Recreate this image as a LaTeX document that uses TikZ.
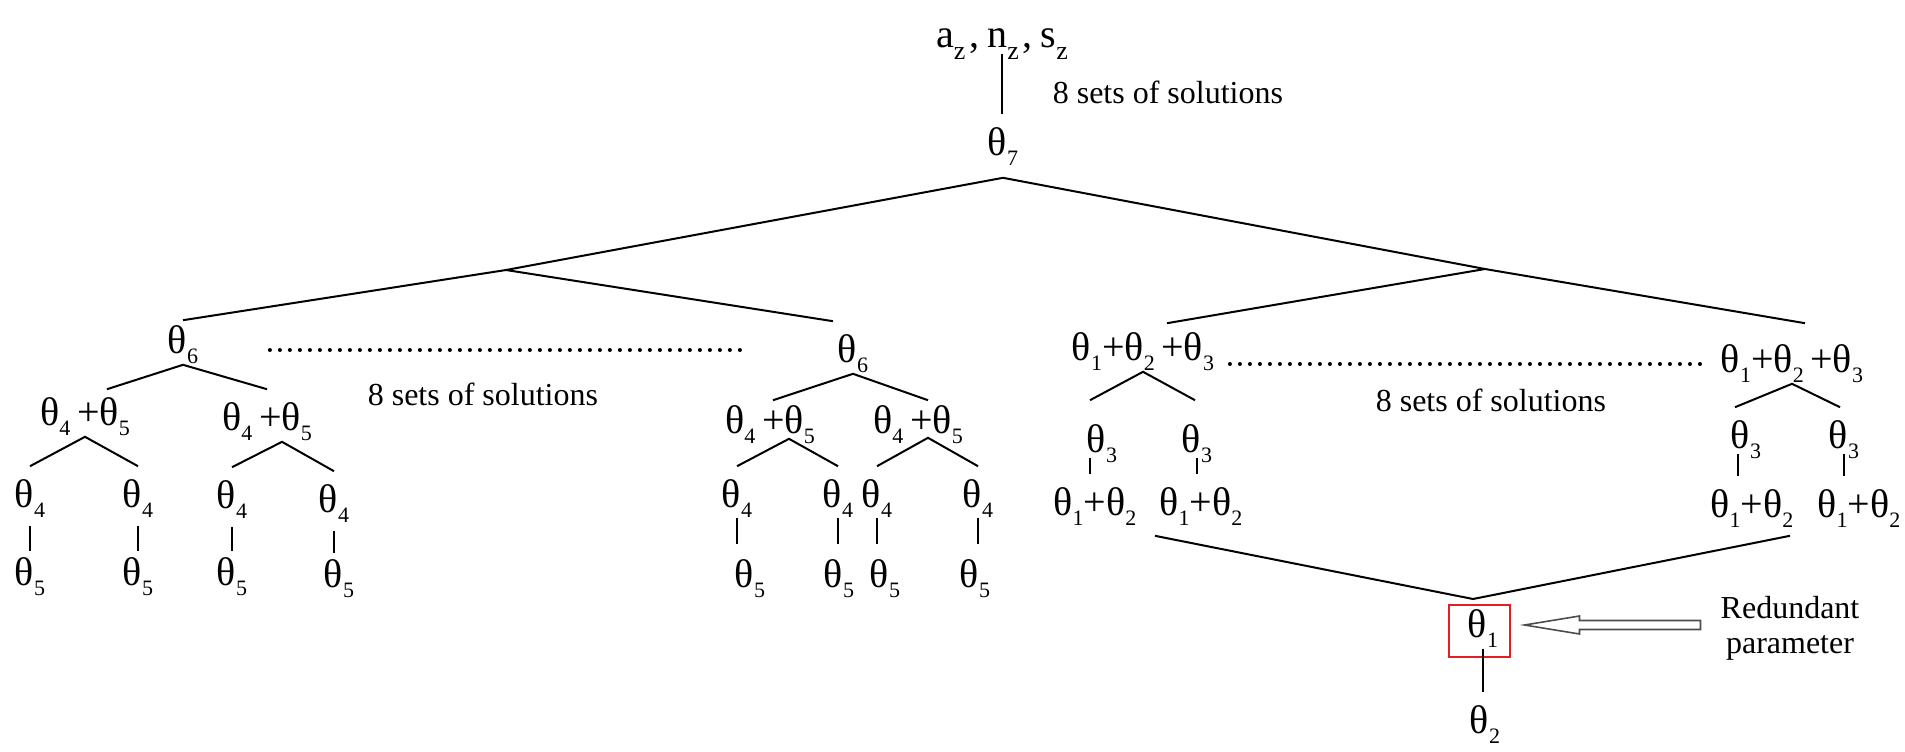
\documentclass[tikz,border=0pt]{standalone}
\usepackage{fontspec}
\setmainfont{Liberation Serif}
\usepackage{tikz}
\usetikzlibrary{calc,positioning}
\definecolor{boxred}{RGB}{225,30,35}
\newcommand{\lo}[1]{\raisebox{-2.6pt}{\fontsize{5.5}{6}\selectfont #1}}
\newcommand{\loz}[1]{\raisebox{-3.2pt}{\fontsize{6.5}{7}\selectfont #1}}
\newcommand{\tha}[1]{θ\lo{#1}}
\tikzset{lb/.style={inner sep=0pt,anchor=base,font=\fontsize{10}{12}\selectfont,text height=10pt,text depth=2.75pt},
nt/.style={inner sep=0pt,font=\fontsize{8}{8.75}\selectfont},
ln/.style={line width=0.5pt},
dt/.style={line width=1pt,line cap=round,dash pattern=on 0pt off 2.5pt}}

\begin{document}
\begin{tikzpicture}[x=0.25pt,y=-0.25pt]
	\useasboundingbox (0,0) rectangle (1905,751);
	\node[lb,text depth=1.5pt] (top) at (1002,47) {a\loz{z}\kern1pt,\kern2pt n\loz{z}\kern1pt,\kern2pt s\loz{z}};
	\node[lb,text depth=5.5pt] (t7) at (1003,155) {\tha{7}};
	\node[nt,anchor=base west] (n1) at (1052,103) {8 sets of solutions};
	\draw[ln] (top.south) -- (top.south |- t7.north);
	\coordinate (jl) at (506,270);
	\coordinate (jr) at (1485,269);
	\draw[ln] (jl) -- (t7.south) -- (jr);

	\node[lb] (s6a) at (183,353) {\tha{6}};
	\node[lb] (s6b) at (853,362) {\tha{6}};
	\node[lb] (r3a) at (1143,360) {\tha{1}+\tha{2}\,+\tha{3}};
	\node[lb] (r3b) at (1792,372) {\tha{1}+\tha{2}\,+\tha{3}};
	\draw[ln] ($(s6a.north)+(0,8)$) -- (jl) -- ($(s6b.north)+(-20,0)$);
	\draw[ln] ($(r3a.north)+(24,4)$) -- (jr) -- ($(r3b.north)+(13,-8)$);
	\draw[dt] ($(s6a.base east)+(71,-3)$) -- ($(s6b.base west)+(-97,-12)$);
	\draw[dt] ($(r3a.base east)+(15,4)$) -- ($(r3b.base west)+(-20,-8)$);
	\node[nt,anchor=base west] (n2) at (367,405) {8 sets of solutions};
	\node[nt,anchor=base west] (n3) at (1375,411) {8 sets of solutions};

	\node[lb] (q1) at (85,425) {\tha{4}\,+\tha{5}};
	\node[lb] (q2) at (267,430) {\tha{4}\,+\tha{5}};
	\draw[ln] ($(q1.north)+(22,5)$) -- (s6a.south) -- (q2.north);
	\foreach \n/\x/\y in {a1/30/507,a2/138/507,a3/232/508,a4/334/512}
		\node[lb,text depth=4.5pt] (\n) at (\x,\y) {\tha{4}};
	\foreach \n/\x/\y in {b1/30/585,b2/138/585,b3/232/585,b4/339/587}
		\node[lb,text height=8.25pt] (\n) at (\x,\y) {\tha{5}};
	\draw[ln] (a1.north) -- (q1.south) -- (a2.north);
	\draw[ln] (a3.north) -- ($(q2.south)+(15,0)$) -- (a4.north);
	\foreach \n/\m in {a1/b1,a2/b2,a3/b3,a4/b4}
		\draw[ln] (\n.south) -- (\n.south |- \m.north);

	\node[lb] (q3) at (770,433) {\tha{4}\,+\tha{5}};
	\node[lb] (q4) at (918,433) {\tha{4}\,+\tha{5}};
	\draw[ln] ($(q3.north)+(3,8)$) -- (s6b.south) -- ($(q4.north)+(10,8)$);
	\foreach \n/\x in {c1/737,c2/838,c3/877,c4/978}
		\node[lb,text depth=2.5pt] (\n) at (\x,507) {\tha{4}};
	\foreach \n/\x in {d1/750,d2/839,d3/885,d4/975}
		\node[lb,text height=10.5pt] (\n) at (\x,587) {\tha{5}};
	\draw[ln] (c1.north) -- ($(q3.south)+(19,-6)$) -- (c2.north);
	\draw[ln] (c3.north) -- ($(q4.south)+(10,-7)$) -- (c4.north);
	\foreach \n/\m in {c1/d1,c2/d2,c3/d3,c4/d4}
		\draw[ln] (\n.south) -- (\n.south |- \m.north);

	\node[lb,text depth=1.25pt] (e1) at (1102,452) {\tha{3}};
	\node[lb,text depth=1.25pt] (e2) at (1197,452) {\tha{3}};
	\node[lb] (f1) at (1095,515) {\tha{1}+\tha{2}};
	\node[lb] (f2) at (1201,515) {\tha{1}+\tha{2}};
	\draw[ln] ($(e1.north)+(-12,-11)$) -- (r3a.south) -- ($(e2.north)+(-2,-11)$);
	\draw[ln] ($(e1.south)+(-12,0)$) -- ($(e1.south |- f1.north)+(-12,0)$);
	\draw[ln] (e2.south) -- (e2.south |- f2.north);

	\node[lb,text depth=1.25pt] (g1) at (1746,448) {\tha{3}};
	\node[lb,text depth=1.25pt] (g2) at (1844,448) {\tha{3}};
	\node[lb] (h1) at (1752,517) {\tha{1}+\tha{2}};
	\node[lb] (h2) at (1859,517) {\tha{1}+\tha{2}};
	\draw[ln] ($(g1.north)+(-11,0)$) -- (r3b.south) -- ($(g2.north)+(-4,0)$);
	\draw[ln] ($(g1.south)+(-8,0)$) -- ($(g1.south |- h1.north)+(-8,0)$);
	\draw[ln] (g2.south) -- (g2.south |- h2.north);

	\node[lb] (k1) at (1483,637) {\tha{1}};
	\node[draw=boxred,line width=0.5pt,minimum width=15.25pt,minimum height=13pt,inner sep=0pt] (box) at (1479,631) {};
	\node[lb] (k2) at (1485,733) {\tha{2}};
	\draw[ln] ($(f2.south)+(-46,9)$) -- ($(box.north)+(-6,-5)$) -- ($(h1.south)+(38,7)$);
	\draw[ln] (k1.south) -- (k1.south |- k2.north);
	\coordinate (tip) at ($(box.east)+(14,-6)$);
	\draw[line width=0.4pt,draw=black!70,fill=white] (tip) -- ++(55,-9) -- ++(0,4.5) -- ++(121,0) -- ++(0,9) -- ++(-121,0) -- ++(0,4.5) -- cycle;
	\node[nt,align=center,anchor=north] (rp) at (1790,595) {Redundant\\parameter};
\end{tikzpicture}
\end{document}
